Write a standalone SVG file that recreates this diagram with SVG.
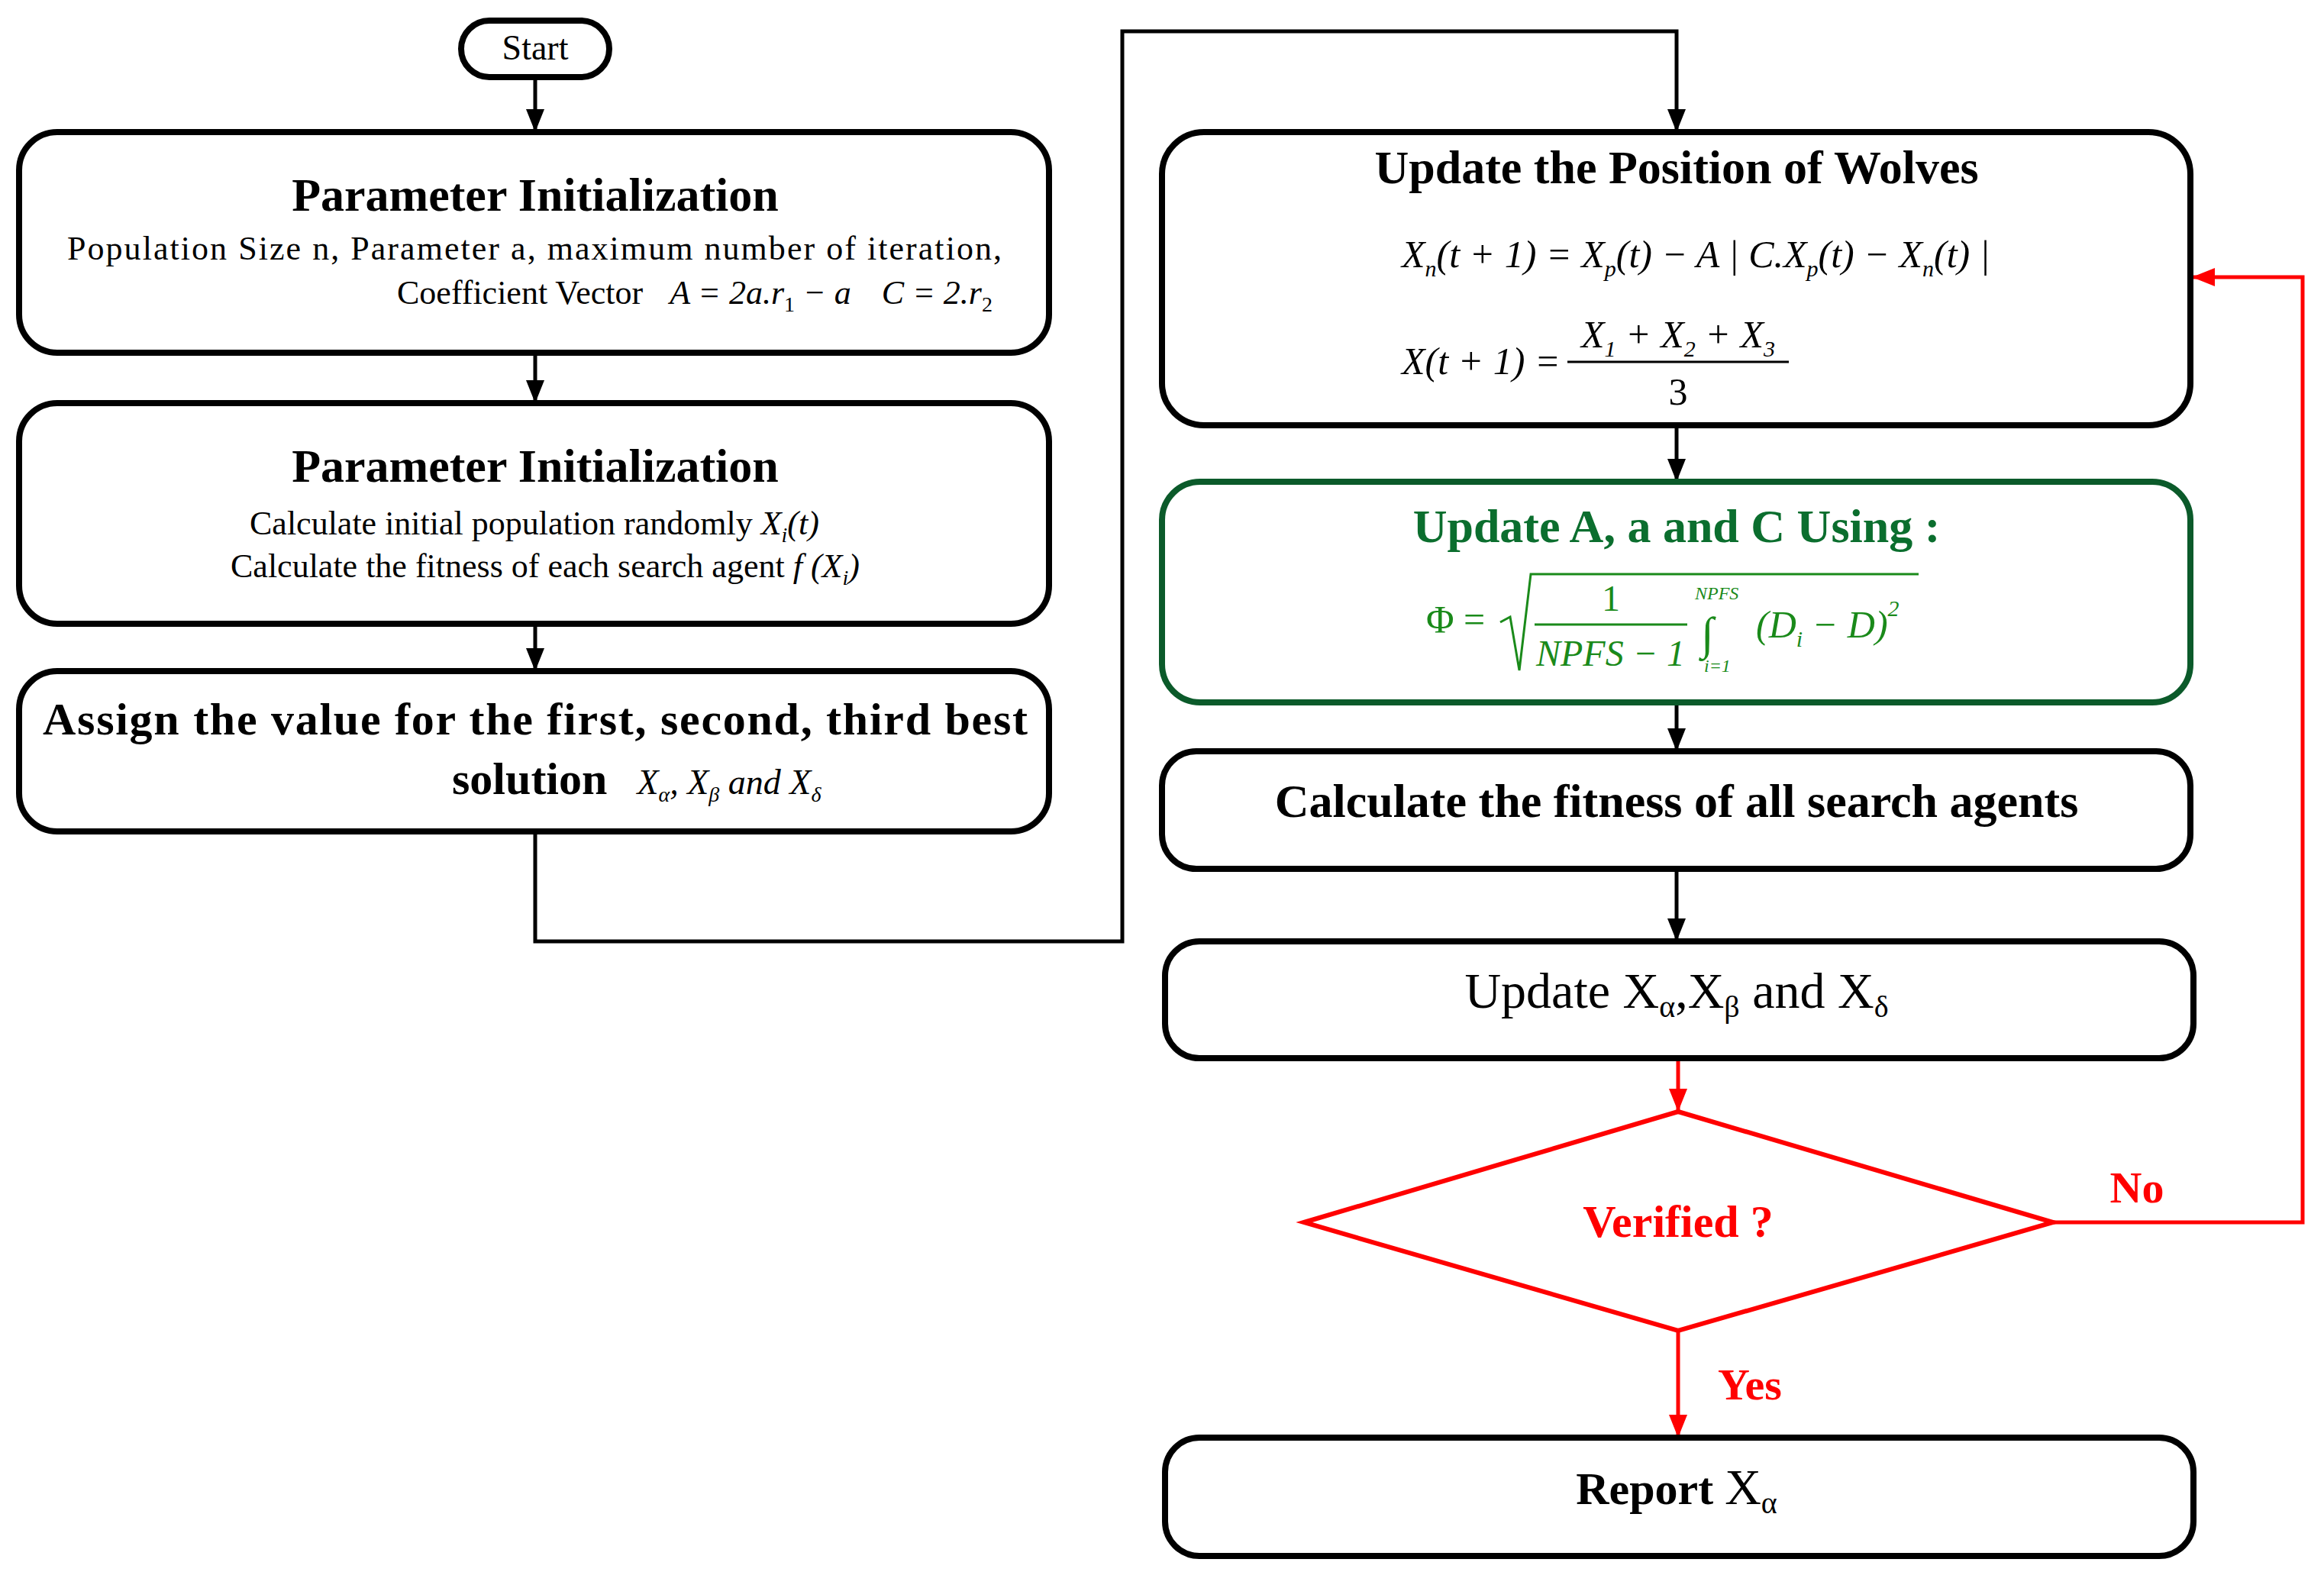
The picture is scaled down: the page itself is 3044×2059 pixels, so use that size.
<svg xmlns="http://www.w3.org/2000/svg" width="3044" height="2059" viewBox="0 0 3044 2059">
<defs>
<marker id="ab" viewBox="0 0 30 24" refX="30" refY="12" markerWidth="30" markerHeight="24" orient="auto" markerUnits="userSpaceOnUse"><path d="M0,0 L30,12 L0,24 Z" fill="#000"/></marker>
<marker id="ar" viewBox="0 0 30 24" refX="30" refY="12" markerWidth="30" markerHeight="24" orient="auto" markerUnits="userSpaceOnUse"><path d="M0,0 L30,12 L0,24 Z" fill="#f00"/></marker>
<style>
.bx{fill:#fff;stroke:#000;stroke-width:8}
.gb{fill:#fff;stroke:#0b5a2a;stroke-width:8}
.t{font-family:"Liberation Serif",serif;fill:#000}
.b{font-weight:bold}
.i{font-style:italic}
.c{stroke:#000;stroke-width:5;fill:none}
.r{stroke:#f00;stroke-width:5;fill:none}
.g{fill:#1a8a1a}
</style>
</defs>
<g id="connectors">
<path class="c" d="M701,101 V173" marker-end="url(#ab)"/>
<path class="c" d="M701,462 V528" marker-end="url(#ab)"/>
<path class="c" d="M701,817 V879" marker-end="url(#ab)"/>
<path class="c" d="M701,1089 V1233 H1470 V41 H2196 V173" marker-end="url(#ab)"/>
<path class="c" d="M2196,557 V631" marker-end="url(#ab)"/>
<path class="c" d="M2196,920 V984" marker-end="url(#ab)"/>
<path class="c" d="M2196,1138 V1233" marker-end="url(#ab)"/>
<path class="r" d="M2198,1386 V1456" marker-end="url(#ar)"/>
<path class="r" d="M2198,1743 V1883" marker-end="url(#ar)"/>
<path class="r" d="M2689,1601 H3016 V363 H2871" marker-end="url(#ar)"/>
<text class="t b" x="2799" y="1575" font-size="58" text-anchor="middle" style="fill:#f00">No</text>
<text class="t b" x="2292" y="1833" font-size="58" text-anchor="middle" style="fill:#f00">Yes</text>
</g>
<g id="start">
<rect class="bx" x="604" y="27" width="194" height="74" rx="37"/>
<text class="t" x="701" y="78" font-size="46" text-anchor="middle">Start</text>
</g>
<g id="init1">
<rect class="bx" x="25" y="173" width="1349" height="289" rx="50"/>
<text class="t b" x="701" y="276" font-size="62" text-anchor="middle">Parameter Initialization</text>
<text class="t" x="88" y="340" font-size="44" textLength="1224">Population Size  n, Parameter a, maximum number of iteration,</text>
<text class="t" x="520" y="398" font-size="44">Coefficient Vector <tspan class="i" dx="24">A = 2a.r</tspan><tspan font-size="28" dy="10">1</tspan><tspan class="i" dy="-10"> − a</tspan><tspan class="i" dx="40">C = 2.r</tspan><tspan font-size="28" dy="10">2</tspan></text>
</g>
<g id="init2">
<rect class="bx" x="25" y="528" width="1349" height="289" rx="50"/>
<text class="t b" x="701" y="631" font-size="62" text-anchor="middle">Parameter Initialization</text>
<text class="t" x="327" y="700" font-size="44">Calculate initial population    randomly   <tspan class="i">X<tspan font-size="28" dy="10">i</tspan><tspan dy="-10">(t)</tspan></tspan></text>
<text class="t" x="302" y="756" font-size="44">Calculate the fitness of each search agent   <tspan class="i">f (X<tspan font-size="28" dy="10">i</tspan><tspan dy="-10">)</tspan></tspan></text>
</g>
<g id="assign">
<rect class="bx" x="25" y="879" width="1349" height="210" rx="50"/>
<text class="t b" x="701" y="962" font-size="60" text-anchor="middle" textLength="1290">Assign the value for the first, second, third best</text>
<text class="t b" x="592" y="1040" font-size="60">solution <tspan class="i" font-weight="normal" font-size="46" dx="24">X<tspan font-size="28" dy="10">α</tspan><tspan dy="-10">, X</tspan><tspan font-size="28" dy="10">β</tspan><tspan dy="-10"> and X</tspan><tspan font-size="28" dy="10">δ</tspan></tspan></text>
</g>
<g id="update-pos">
<rect class="bx" x="1522" y="173" width="1347" height="384" rx="55"/>
<text class="t b" x="2196" y="240" font-size="62" text-anchor="middle">Update the Position of Wolves</text>
<text class="t i" x="1836" y="350" font-size="50">X<tspan font-size="30" dy="12">n</tspan><tspan dy="-12">(t + 1) = X</tspan><tspan font-size="30" dy="12">p</tspan><tspan dy="-12">(t) − A | C.X</tspan><tspan font-size="30" dy="12">p</tspan><tspan dy="-12">(t) − X</tspan><tspan font-size="30" dy="12">n</tspan><tspan dy="-12">(t) |</tspan></text>
<text class="t i" x="1836" y="490" font-size="50">X(t + 1) =</text>
<text class="t i" x="2198" y="455" font-size="50" text-anchor="middle">X<tspan font-size="30" dy="12">1</tspan><tspan dy="-12"> + X</tspan><tspan font-size="30" dy="12">2</tspan><tspan dy="-12"> + X</tspan><tspan font-size="30" dy="12">3</tspan></text>
<line x1="2053" y1="474" x2="2343" y2="474" stroke="#000" stroke-width="3"/>
<text class="t" x="2198" y="530" font-size="50" text-anchor="middle">3</text>
</g>
<g id="update-aac">
<rect class="gb" x="1522" y="631" width="1347" height="289" rx="50"/>
<text class="t b" x="2196" y="710" font-size="62" text-anchor="middle" style="fill:#0b6e2e">Update A, a and C Using :</text>
<text class="t g" x="1868" y="828" font-size="50" style="fill:#1a8a1a">Φ =</text>
<path d="M1965,815 L1978,808 L1990,878 L2005,752 H2513" fill="none" stroke="#1a8a1a" stroke-width="3"/>
<text class="t" x="2110" y="800" font-size="48" text-anchor="middle" style="fill:#1a8a1a">1</text>
<line x1="2010" y1="818" x2="2210" y2="818" stroke="#1a8a1a" stroke-width="3"/>
<text class="t i" x="2012" y="872" font-size="48" style="fill:#1a8a1a">NPFS − 1</text>
<text class="t i" x="2220" y="785" font-size="24" style="fill:#1a8a1a">NPFS</text>
<text class="t" x="2228" y="850" font-size="60" style="fill:#1a8a1a">∫</text>
<text class="t i" x="2232" y="880" font-size="24" style="fill:#1a8a1a">i=1</text>
<text class="t i" x="2300" y="835" font-size="50" style="fill:#1a8a1a">(D<tspan font-size="30" dy="12">i</tspan><tspan dy="-12"> − D)</tspan><tspan font-size="30" dy="-28">2</tspan></text>
</g>
<g id="calc-fitness">
<rect class="bx" x="1522" y="984" width="1347" height="154" rx="45"/>
<text class="t b" x="2196" y="1070" font-size="62" text-anchor="middle">Calculate the fitness of all search agents</text>
</g>
<g id="update-x">
<rect class="bx" x="1526" y="1233" width="1347" height="153" rx="45"/>
<text class="t" x="2196" y="1320" font-size="66" text-anchor="middle">Update X<tspan font-size="40" dy="12">α</tspan><tspan dy="-12">,X</tspan><tspan font-size="40" dy="12">β</tspan><tspan dy="-12"> and X</tspan><tspan font-size="40" dy="12">δ</tspan></text>
</g>
<g id="verified">
<polygon points="1708,1601 2198,1456 2689,1601 2198,1743" fill="#fff" stroke="#f00" stroke-width="6"/>
<text class="t b" x="2198" y="1620" font-size="60" text-anchor="middle" style="fill:#f00">Verified ?</text>
</g>
<g id="report">
<rect class="bx" x="1526" y="1883" width="1347" height="155" rx="45"/>
<text class="t b" x="2196" y="1970" font-size="60" text-anchor="middle">Report  <tspan font-weight="normal" font-size="66">X</tspan><tspan font-weight="normal" font-size="40" dy="12">α</tspan></text>
</g>
</svg>
